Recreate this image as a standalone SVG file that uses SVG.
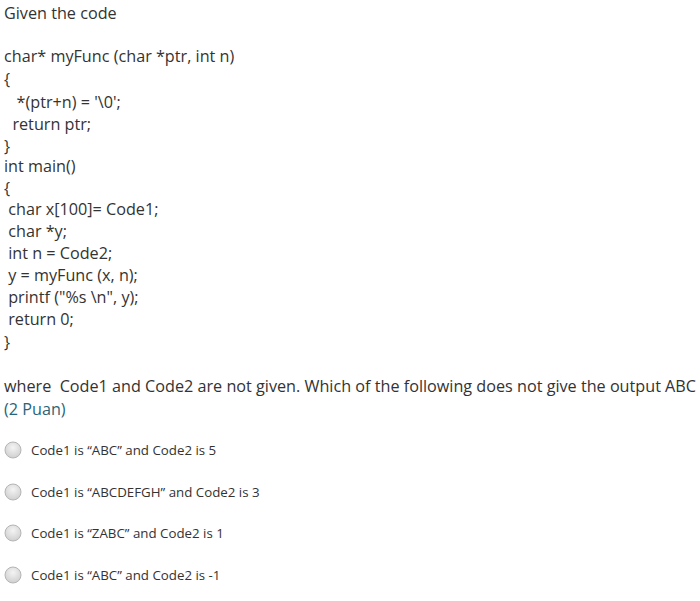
<svg xmlns="http://www.w3.org/2000/svg" width="700" height="601" viewBox="0 0 700 601">
<defs>
<style>
.t{font-family:"Open Sans","Noto Sans",sans-serif;font-size:16.2px;fill:#333;white-space:pre}
.o{font-family:"Open Sans","Noto Sans",sans-serif;font-size:13.3px;fill:#333;white-space:pre}
.r{fill:url(#g);stroke:#b5b5b5;stroke-width:1}
</style>
<radialGradient id="g" cx="50%" cy="35%" r="60%"><stop offset="0" stop-color="#f4f4f4"/><stop offset="1" stop-color="#d2d2d2"/></radialGradient>
</defs>
<rect width="700" height="601" fill="#fff"/>
<g xml:space="preserve">
<text class="t" x="4" y="19">Given the code</text>
<text class="t" x="4" y="62">char* myFunc (char *ptr, int n)</text>
<text class="t" x="4" y="85">{</text>
<text class="t" x="4" y="108">   *(ptr+n) = '\0';</text>
<text class="t" x="4" y="130">  return ptr;</text>
<text class="t" x="4" y="152">}</text>
<text class="t" x="4" y="172">int main()</text>
<text class="t" x="4" y="194">{</text>
<text class="t" x="4" y="215"> char x[100]= Code1;</text>
<text class="t" x="4" y="237"> char *y;</text>
<text class="t" x="4" y="259"> int n = Code2;</text>
<text class="t" x="4" y="281"> y = myFunc (x, n);</text>
<text class="t" x="4" y="303"> printf ("%s \n", y);</text>
<text class="t" x="4" y="325"> return 0;</text>
<text class="t" x="4" y="348">}</text>
<text class="t" x="4" y="392">where  Code1 and Code2 are not given. Which of the following does not give the output ABC</text>
<text class="t" x="4" y="415" style="fill:#2a6478">(2 Puan)</text>
</g>
<g id="opt1"><circle class="r" cx="13" cy="450" r="8"/><text class="o" x="31" y="455">Code1 is “ABC” and Code2 is 5</text></g>
<g id="opt2"><circle class="r" cx="13" cy="492" r="8"/><text class="o" x="31" y="497">Code1 is “ABCDEFGH” and Code2 is 3</text></g>
<g id="opt3"><circle class="r" cx="13" cy="533" r="8"/><text class="o" x="31" y="538">Code1 is “ZABC” and Code2 is 1</text></g>
<g id="opt4"><circle class="r" cx="13" cy="575" r="8"/><text class="o" x="31" y="580">Code1 is “ABC” and Code2 is -1</text></g>
</svg>
